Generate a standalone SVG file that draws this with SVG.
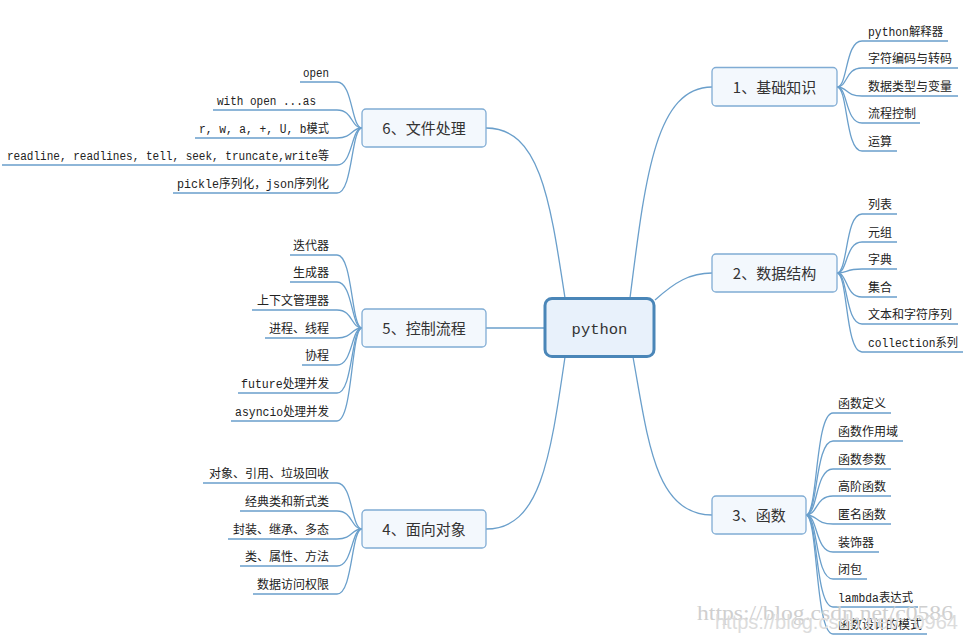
<svg xmlns="http://www.w3.org/2000/svg" width="969" height="644" viewBox="0 0 969 644">
<style>
.c{fill:none;stroke:#6a9fcb;stroke-width:1.3}
.b rect{fill:#f3f8fd;stroke:#80acd4;stroke-width:1.3}
.bt{font-family:"Noto Sans CJK SC","Liberation Sans",sans-serif;font-size:15px;fill:#333;text-anchor:middle}
.l{font-family:"Liberation Mono","Noto Sans CJK SC",monospace;font-size:12px;fill:#222}
.r{text-anchor:end}
.wm{font-family:"Liberation Serif",serif;font-size:22px;fill:#cfcfcf}
.wm2{font-family:"Liberation Sans",sans-serif;font-size:20px;fill:#dcdcdc}
</style>
<rect width="969" height="644" fill="#fff"/>
<g id="connectors">
<path class="c" d="M630 298C645 180 655 87 712 87"/>
<path class="c" d="M655 300C675 282 690 273 712 273"/>
<path class="c" d="M633 357C648 440 655 515 712 515"/>
<path class="c" d="M565 298C550 200 540 128 486 128"/>
<path class="c" d="M545 328H486"/>
<path class="c" d="M565 357C550 460 540 529 486 529"/>
<!-- branch 1 -->
<path class="c" d="M837 87C848 87 845 41 862 41H948"/>
<path class="c" d="M837 87C848 87 845 68 862 68H958"/>
<path class="c" d="M837 87C848 87 845 96 862 96H958"/>
<path class="c" d="M837 87C848 87 845 123 862 123H920"/>
<path class="c" d="M837 87C848 87 845 151 862 151H897"/>
<!-- branch 2 -->
<path class="c" d="M837 273C848 273 845 214 862 214H897"/>
<path class="c" d="M837 273C848 273 845 242 862 242H897"/>
<path class="c" d="M837 273C848 273 845 269 862 269H897"/>
<path class="c" d="M837 273C848 273 845 297 862 297H897"/>
<path class="c" d="M837 273C848 273 845 324 862 324H958"/>
<path class="c" d="M837 273C848 273 845 352 862 352H963"/>
<!-- branch 3 -->
<path class="c" d="M806 515C818 515 815 413 833 413H891"/>
<path class="c" d="M806 515C818 515 815 441 833 441H903"/>
<path class="c" d="M806 515C818 515 815 469 833 469H891"/>
<path class="c" d="M806 515C818 515 815 496 833 496H891"/>
<path class="c" d="M806 515C818 515 815 524 833 524H891"/>
<path class="c" d="M806 515C818 515 815 552 833 552H879"/>
<path class="c" d="M806 515C818 515 815 579 833 579H867"/>
<path class="c" d="M806 515C818 515 815 607 833 607H918"/>
<path class="c" d="M806 515C818 515 815 634 833 634H927"/>
<!-- branch 6 -->
<path class="c" d="M362 128C351 128 353 82 337 82H300"/>
<path class="c" d="M362 128C351 128 353 110 337 110H213"/>
<path class="c" d="M362 128C351 128 353 138 337 138H195"/>
<path class="c" d="M362 128C351 128 353 165 337 165H2"/>
<path class="c" d="M362 128C351 128 353 193 337 193H173"/>
<!-- branch 5 -->
<path class="c" d="M362 328C351 328 353 255 337 255H290"/>
<path class="c" d="M362 328C351 328 353 282 337 282H290"/>
<path class="c" d="M362 328C351 328 353 310 337 310H252"/>
<path class="c" d="M362 328C351 328 353 338 337 338H265"/>
<path class="c" d="M362 328C351 328 353 365 337 365H302"/>
<path class="c" d="M362 328C351 328 353 393 337 393H238"/>
<path class="c" d="M362 328C351 328 353 421 337 421H231"/>
<!-- branch 4 -->
<path class="c" d="M362 529C351 529 353 483 337 483H203"/>
<path class="c" d="M362 529C351 529 353 511 337 511H240"/>
<path class="c" d="M362 529C351 529 353 539 337 539H228"/>
<path class="c" d="M362 529C351 529 353 566 337 566H240"/>
<path class="c" d="M362 529C351 529 353 594 337 594H253"/>
</g>
<g id="root">
<rect x="545" y="298.5" width="109" height="58" rx="7" fill="#e8f1fb" stroke="#4a86b8" stroke-width="3"/>
<text x="599.5" y="334" font-family="Liberation Mono,monospace" font-size="15.5" fill="#333" text-anchor="middle">python</text>
</g>
<g id="n1" class="b"><rect x="712" y="67.5" width="125" height="38.5" rx="4"/><text class="bt" x="774.5" y="92.5">1、基础知识</text></g>
<g id="n2" class="b"><rect x="712" y="254" width="125" height="38" rx="4"/><text class="bt" x="774.5" y="278.5">2、数据结构</text></g>
<g id="n3" class="b"><rect x="712" y="496" width="94" height="38" rx="4"/><text class="bt" x="759" y="520.5">3、函数</text></g>
<g id="n4" class="b"><rect x="362" y="510" width="124" height="38" rx="4"/><text class="bt" x="424" y="534.5">4、面向对象</text></g>
<g id="n5" class="b"><rect x="362" y="309" width="124" height="38" rx="4"/><text class="bt" x="424" y="333.5">5、控制流程</text></g>
<g id="n6" class="b"><rect x="362" y="109" width="124" height="38" rx="4"/><text class="bt" x="424" y="133.5">6、文件处理</text></g>
<g id="leaves1">
<text class="l" x="868" y="36" textLength="75" lengthAdjust="spacingAndGlyphs">python解释器</text>
<text class="l" x="868" y="63">字符编码与转码</text>
<text class="l" x="868" y="91">数据类型与变量</text>
<text class="l" x="868" y="118">流程控制</text>
<text class="l" x="868" y="146">运算</text>
</g>
<g id="leaves2">
<text class="l" x="868" y="209">列表</text>
<text class="l" x="868" y="237">元组</text>
<text class="l" x="868" y="264">字典</text>
<text class="l" x="868" y="292">集合</text>
<text class="l" x="868" y="319">文本和字符序列</text>
<text class="l" x="868" y="347" textLength="90" lengthAdjust="spacingAndGlyphs">collection系列</text>
</g>
<g id="leaves3">
<text class="l" x="838" y="408">函数定义</text>
<text class="l" x="838" y="436">函数作用域</text>
<text class="l" x="838" y="464">函数参数</text>
<text class="l" x="838" y="491">高阶函数</text>
<text class="l" x="838" y="519">匿名函数</text>
<text class="l" x="838" y="547">装饰器</text>
<text class="l" x="838" y="574">闭包</text>
<text class="l" x="838" y="602" textLength="75" lengthAdjust="spacingAndGlyphs">lambda表达式</text>
<text class="l" x="838" y="629">函数设计的模式</text>
</g>
<g id="leaves6">
<text class="l" x="303" y="77" textLength="26" lengthAdjust="spacingAndGlyphs">open</text>
<text class="l" x="217" y="105" textLength="99" lengthAdjust="spacingAndGlyphs">with open ...as</text>
<text class="l" x="199" y="133" textLength="130" lengthAdjust="spacingAndGlyphs">r, w, a, +, U, b模式</text>
<text class="l" x="7" y="160" textLength="322" lengthAdjust="spacingAndGlyphs">readline, readlines, tell, seek, truncate,write等</text>
<text class="l" x="177" y="188" textLength="152" lengthAdjust="spacingAndGlyphs">pickle序列化，json序列化</text>
</g>
<g id="leaves5">
<text class="l r" x="329" y="250">迭代器</text>
<text class="l r" x="329" y="277">生成器</text>
<text class="l r" x="329" y="305">上下文管理器</text>
<text class="l r" x="329" y="333">进程、线程</text>
<text class="l r" x="329" y="360">协程</text>
<text class="l" x="241" y="388" textLength="88" lengthAdjust="spacingAndGlyphs">future处理并发</text>
<text class="l" x="235" y="416" textLength="94" lengthAdjust="spacingAndGlyphs">asyncio处理并发</text>
</g>
<g id="leaves4">
<text class="l r" x="329" y="478">对象、引用、垃圾回收</text>
<text class="l r" x="329" y="506">经典类和新式类</text>
<text class="l r" x="329" y="534">封装、继承、多态</text>
<text class="l r" x="329" y="561">类、属性、方法</text>
<text class="l r" x="329" y="589">数据访问权限</text>
</g>
<g id="watermark">
<text class="wm" x="697" y="620" textLength="256" lengthAdjust="spacingAndGlyphs">https://blog.csdn.net/c0586</text>
<text class="wm2" x="715" y="629">https://blog.csdn.net/</text>
<text class="wm2" x="958" y="629" text-anchor="end">0964</text>
</g>
</svg>
